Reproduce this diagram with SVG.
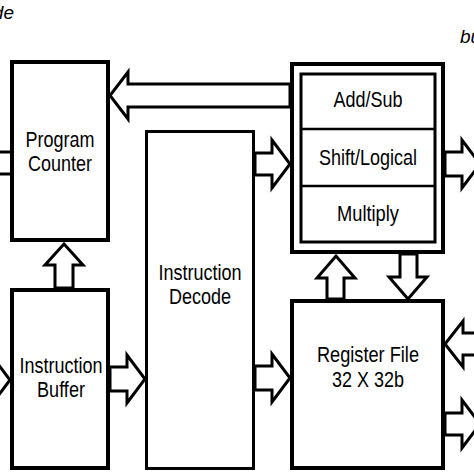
<svg xmlns="http://www.w3.org/2000/svg" width="474" height="474" viewBox="0 0 474 474">
<style>
.box{fill:#fff;stroke:#000;stroke-width:4}
.thin{fill:#fff;stroke:#000;stroke-width:3}
.div{stroke:#000;stroke-width:2.5}
.arr{fill:#fff;stroke:#000;stroke-width:3;stroke-linejoin:miter}
.lbl{font-family:"Liberation Sans",Arial,sans-serif;font-size:22px;fill:#000;text-anchor:middle}
.it{font-family:"Liberation Sans",Arial,sans-serif;font-size:19px;font-style:italic;fill:#000}
</style>
<rect width="474" height="474" fill="#fff"/>
<g id="connectors">
<polygon class="arr" points="290,84 128,84 128,72 110,95.5 128,119 128,107 290,107"/>
<polygon class="arr" points="255,153 272,153 272,140 290,164 272,188 272,175 255,175"/>
<polygon class="arr" points="445,152 462,152 462,140 480,164 462,188 462,176 445,176"/>
<polygon class="arr" points="55,288 55,265 45,265 64,244 83,265 73,265 73,288"/>
<polygon class="arr" points="-20,368 -8,368 -8,356 10,380 -8,404 -8,392 -20,392"/>
<polygon class="arr" points="110,367 127,367 127,355 145,379 127,403 127,391 110,391"/>
<polygon class="arr" points="255,366 272,366 272,354 290,378 272,402 272,390 255,390"/>
<polygon class="arr" points="327,299 327,278 317,278 336,256 355,278 344,278 344,299"/>
<polygon class="arr" points="400,254 400,277 389,277 408,299 427,277 417,277 417,254"/>
<polygon class="arr" points="480,333 463,333 463,321 445,344 463,367 463,355 480,355"/>
<polygon class="arr" points="445,413 462,413 462,400 480,424 462,448 462,435 445,435"/>
<line x1="-5" y1="152" x2="10" y2="152" stroke="#000" stroke-width="3"/>
<line x1="-5" y1="174" x2="10" y2="174" stroke="#000" stroke-width="3"/>
</g>
<g id="pc">
<rect class="box" x="12" y="62" width="96" height="178"/>
<text class="lbl" x="60" y="147" textLength="69" lengthAdjust="spacingAndGlyphs">Program</text>
<text class="lbl" x="60" y="171" textLength="64" lengthAdjust="spacingAndGlyphs">Counter</text>
</g>
<g id="ib">
<rect class="box" x="12" y="290" width="96" height="178"/>
<text class="lbl" x="61" y="373" textLength="83" lengthAdjust="spacingAndGlyphs">Instruction</text>
<text class="lbl" x="61" y="397" textLength="48" lengthAdjust="spacingAndGlyphs">Buffer</text>
</g>
<g id="decode">
<rect class="thin" x="146.5" y="131.5" width="107" height="337"/>
<text class="lbl" x="200" y="280" textLength="83" lengthAdjust="spacingAndGlyphs">Instruction</text>
<text class="lbl" x="200" y="304" textLength="62" lengthAdjust="spacingAndGlyphs">Decode</text>
</g>
<g id="alu">
<rect class="box" x="292" y="64" width="151" height="188"/>
<rect class="thin" x="301" y="74" width="134" height="168"/>
<line class="div" x1="301" y1="129" x2="435" y2="129"/>
<line class="div" x1="301" y1="186" x2="435" y2="186"/>
<text class="lbl" x="368" y="107" textLength="69" lengthAdjust="spacingAndGlyphs">Add/Sub</text>
<text class="lbl" x="368" y="165" textLength="98" lengthAdjust="spacingAndGlyphs">Shift/Logical</text>
<text class="lbl" x="368" y="221" textLength="62" lengthAdjust="spacingAndGlyphs">Multiply</text>
</g>
<g id="rf">
<rect class="box" x="292" y="301" width="151" height="167"/>
<text class="lbl" x="368" y="362" textLength="102" lengthAdjust="spacingAndGlyphs">Register File</text>
<text class="lbl" x="368" y="387" textLength="72" lengthAdjust="spacingAndGlyphs">32 X 32b</text>
</g>
<g id="labels">
<text class="it" x="14" y="19" text-anchor="end">de</text>
<text class="it" x="460" y="43">bu</text>
</g>
</svg>
